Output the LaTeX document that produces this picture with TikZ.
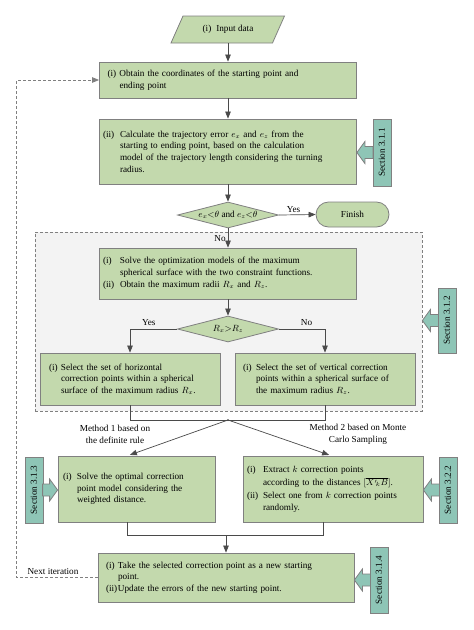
\documentclass[tikz,border=0pt]{standalone}
\usepackage{fontspec}
\setmainfont{Liberation Serif}
\usepackage{graphicx}
\usetikzlibrary{arrows.meta,shapes.geometric,calc}
\definecolor{boxg}{HTML}{C3D9AD}
\definecolor{bord}{HTML}{808080}
\definecolor{tabc}{HTML}{8EC5B6}
\definecolor{lnc}{HTML}{4A4A4A}
\definecolor{regbg}{HTML}{F3F3F3}
\newcommand\fs{\fontsize{9.2}{11.7}\selectfont}
\newcommand\itm[3]{\noindent\makebox[#1][l]{#2}\parbox[t]{\dimexpr\hsize-#1\relax}{#3}}
\newcommand\barrow[3]{\draw[barr] (#1) -- ++({8*#3},-11) -- ++(0,5) -- ++({(#2-8)*#3},0) -- ++(0,12) -- ++({-(#2-8)*#3},0) -- ++(0,5) -- cycle;}
\begin{document}
\begin{tikzpicture}[x=1pt,y=-1pt,font=\fs,
 boxbase/.style={draw=bord, fill=boxg, line width=0.8pt},
 tb/.style={draw=bord, fill=tabc, line width=0.8pt, minimum width=18, minimum height=66, inner sep=0},
 ln/.style={draw=lnc, line width=0.7pt},
 arr/.style={ln, -{Triangle[length=7pt,width=5.5pt]}},
 dsh/.style={draw=bord, line width=0.8pt, dash pattern=on 3pt off 2pt},
 barr/.style={draw=bord, fill=tabc, line width=0.8pt},
 tbox/.style={boxbase, inner ysep=0, align=left}]
\useasboundingbox (0,0) rectangle (474,630);
% dashed region
\node[fill=regbg, dsh, minimum width=387, minimum height=179, inner sep=0] (reg) at (228.5,321.5) {};
% input
\fill[boxg, draw=bord, line width=0.8pt] (171,43) -- (183,16) -- (284.5,16) -- (272.5,43) -- cycle;
\node[minimum width=101.5, minimum height=27, inner sep=0] (in) at (228,29.5) {(i)\hspace{5pt}Input data};
% boxes
\node[tbox, minimum width=257, minimum height=36, text width=241, inner xsep=8] (b1) at (228,80)
 {\itm{12pt}{(i)}{Obtain the coordinates of the starting point and\\ending point}};
\node[tbox, minimum width=257, minimum height=65, text width=250, inner xsep=3.5] (b2) at (228,151.5)
 {\itm{17pt}{(ii)}{Calculate the trajectory error $e_x$ and $e_z$ from the\\starting to ending point, based on the calculation\\model of the trajectory length considering the turning\\radius.}};
\node[boxbase, diamond, aspect=3.9, minimum width=101, minimum height=26, inner sep=0] (d1) at (228,215)
 {$e_x{<}\theta$ and $e_z{<}\theta$};
\node[boxbase, rounded corners=12.5, minimum width=73, minimum height=25, inner sep=0] (fin) at (352.5,214.5) {Finish};
\node[tbox, minimum width=257, minimum height=51, text width=250, inner xsep=3.5] (b3) at (228,273.5)
 {\itm{17pt}{(i)}{Solve the optimization models of the maximum\\spherical surface with the two constraint functions.}\par\vspace{3pt}
  \itm{17pt}{(ii)}{Obtain the maximum radii $R_x$ and $R_z$.}};
\node[boxbase, diamond, aspect=3.9, minimum width=101, minimum height=26, inner sep=0] (d2) at (228,329)
 {$R_x{>}R_z$};
\node[tbox, minimum width=180, minimum height=52, text width=162, inner xsep=9] (b4) at (130,379)
 {\itm{12pt}{(i)}{Select the set of horizontal\\correction points within a spherical\\surface of the maximum radius $R_x$.}};
\node[tbox, minimum width=180, minimum height=52, text width=164, inner xsep=8] (b5) at (325,379)
 {\itm{13pt}{(i)}{Select the set of vertical correction\\points within a spherical surface of\\the maximum radius $R_z$.}};
\node[tbox, minimum width=157, minimum height=66, text width=147, inner xsep=5] (b6) at (136.5,489)
 {\itm{14pt}{(i)}{Solve the optimal correction\\point model considering the\\weighted distance.}};
\node[tbox, minimum width=180, minimum height=66, text width=172, inner xsep=4] (b7) at (333,489)
 {\itm{16pt}{(i)}{Extract $k$ correction points\\[1.5pt]according to the distances $[\smash{\overline{{X'}_{\!k}B}}]$.}\par\vspace{3pt}
  \itm{16pt}{(ii)}{Select one from $k$ correction points\\randomly.}};
\node[tbox, minimum width=256, minimum height=49, text width=240, inner xsep=8] (b8) at (226,577.5)
 {\itm{12pt}{(i)}{Take the selected correction point as a new starting\\point.}\par\vspace{2pt}
  \itm{12pt}{(ii)}{Update the errors of the new starting point.}};
% section tabs
\node[tb, minimum height=67] (s311) at (382,152.5) {\rotatebox{90}{Section 3.1.1}};
\node[tb, minimum height=65] (s312) at (447,320.5) {\rotatebox{90}{Section 3.1.2}};
\node[tb] (s313) at (34,490) {\rotatebox{90}{Section 3.1.3}};
\node[tb] (s322) at (448,490) {\rotatebox{90}{Section 3.2.2}};
\node[tb] (s314) at (379,580) {\rotatebox{90}{Section 3.1.4}};
\barrow{b2.east |- s311}{16}{1}
\barrow{reg.east |- s312}{16}{1}
\barrow{b6.west |- s313}{15}{-1}
\barrow{b7.east |- s322}{16}{1}
\barrow{b8.east |- s314}{16}{1}
% connectors
\draw[arr] (in.south) -- (b1.north);
\draw[arr] (b1.south) -- (b2.north);
\draw[arr] (b2.south) -- (d1.north);
\draw[arr] (d1.east) -- node[above, pos=0.4, inner sep=1.5pt] {Yes} (fin.west);
\draw[arr] (d1.south) -- node[left, pos=0.55, inner sep=2pt] {No} (b3.north);
\draw[arr] (b3.south) -- (d2.north);
\draw[arr] (d2.west) -| node[above, pos=0.3, inner sep=3pt] {Yes} (b4.north);
\draw[arr] (d2.east) -| node[above, pos=0.3, inner sep=3pt] {No} (b5.north);
\draw[ln] (b4.south) -- ++(0,15) -| (b5.south);
\coordinate (j) at (228,420);
\fill[lnc] (j) circle (1pt);
\draw[arr, shorten >=2pt] (j) -- ($(b6.north)+(-8.5,0)$);
\draw[arr, shorten >=2pt] (j) -- ($(b7.north)+(-2,0)$);
\node[align=center] (m1) at (115,434) {Method 1 based on\\the definite rule};
\node[align=center] (m2) at (358,434) {Method 2 based on Monte\\Carlo Sampling};
\draw[ln] ($(b6.south)+(-9.5,0)$) -- ++(0,13) -| ($(b7.south)+(-10,0)$);
\coordinate (j2) at (226,535);
\draw[arr] (j2) -- (b8.north);
% next iteration
\draw[dsh, -{Triangle[length=7pt,width=5.5pt]}] (b8.west) -- ++(-81,0) |- (b1.west);
\node (ni) at (53,571.5) {Next iteration};
\end{tikzpicture}
\end{document}
